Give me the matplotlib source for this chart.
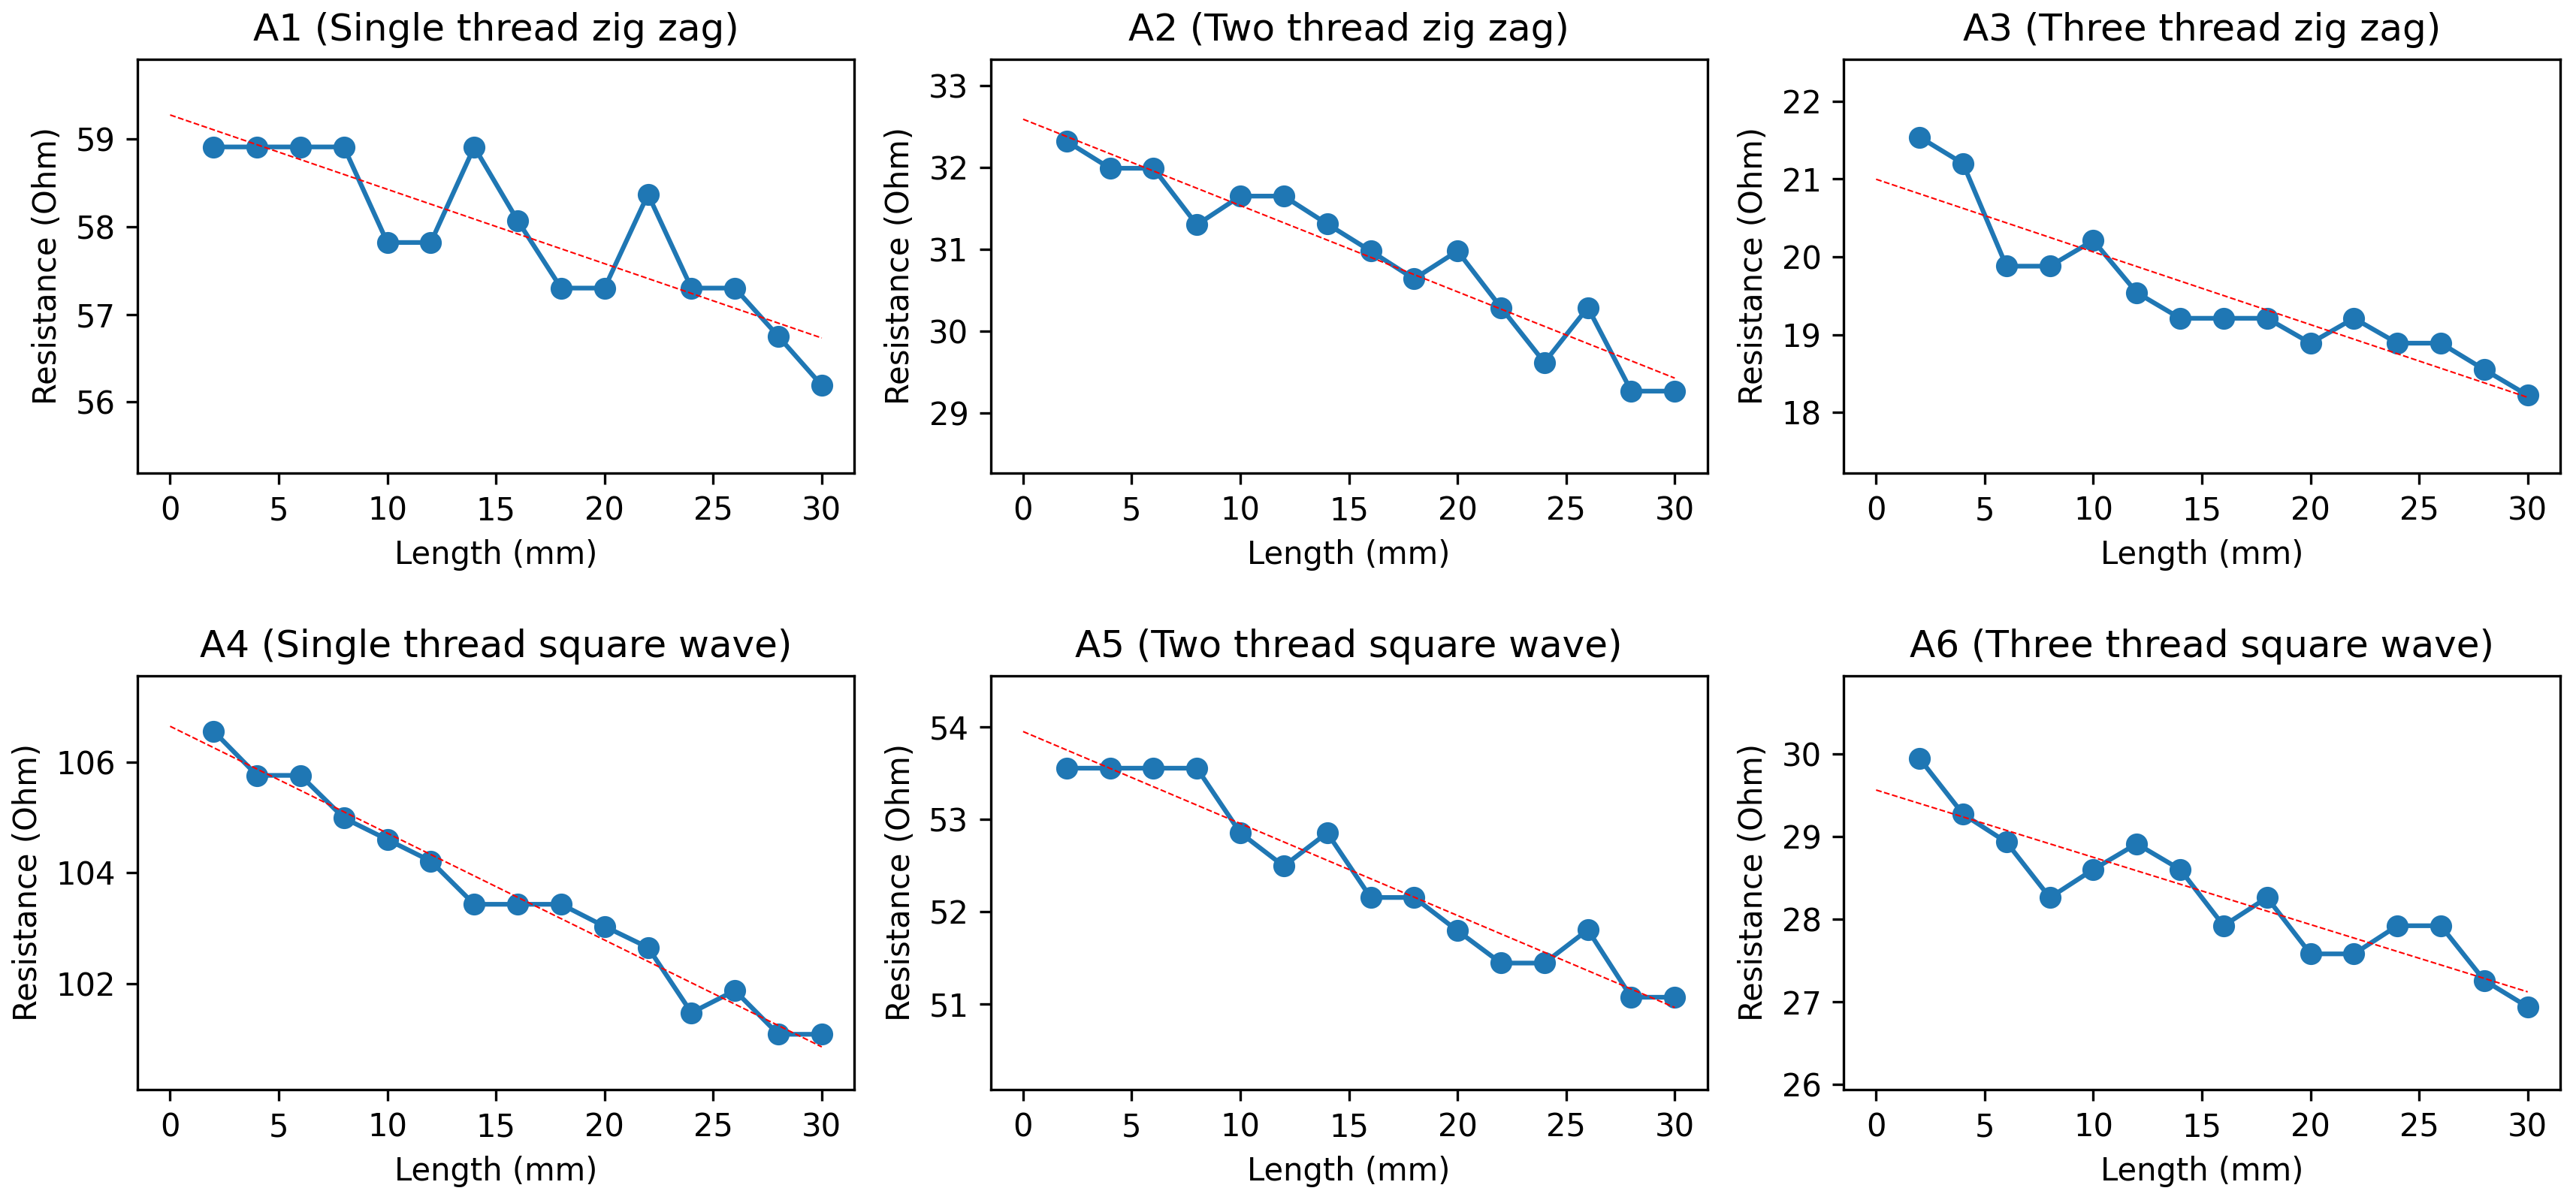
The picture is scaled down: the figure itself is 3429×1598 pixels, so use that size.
import matplotlib
matplotlib.use("Agg")
import matplotlib.pyplot as plt
import numpy as np

# lengths (mm) shared by all samples
length = [2, 4, 6, 8, 10, 12, 14, 16, 18, 20, 22, 24, 26, 28, 30]

titles = [
    "A1 (Single thread zig zag)",
    "A2 (Two thread zig zag)",
    "A3 (Three thread zig zag)",
    "A4 (Single thread square wave)",
    "A5 (Two thread square wave)",
    "A6 (Three thread square wave)",
]

# resistance readings (Ohm)
a1 = [58.91, 58.91, 58.91, 58.91, 57.82, 57.82, 58.91, 58.07,
      57.30, 57.30, 58.37, 57.30, 57.30, 56.75, 56.19]
a2 = [32.32, 31.99, 31.99, 31.30, 31.65, 31.65, 31.31, 30.98,
      30.64, 30.98, 30.29, 29.62, 30.29, 29.27, 29.27]
a3 = [21.54, 21.20, 19.88, 19.88, 20.21, 19.54, 19.21, 19.21,
      19.21, 18.89, 19.21, 18.89, 18.89, 18.55, 18.22]
a4 = [106.56, 105.76, 105.76, 104.99, 104.60, 104.21, 103.43, 103.43,
      103.43, 103.03, 102.65, 101.47, 101.87, 101.08, 101.08]
a5 = [53.55, 53.55, 53.55, 53.55, 52.85, 52.49, 52.85, 52.15,
      52.15, 51.79, 51.44, 51.44, 51.80, 51.07, 51.07]
a6 = [29.94, 29.27, 28.93, 28.26, 28.60, 28.91, 28.60, 27.92,
      28.26, 27.58, 27.58, 27.92, 27.92, 27.26, 26.94]

series = [a1, a2, a3, a4, a5, a6]


def draw_sample(ax, x, y, title):
    """One panel: measured points plus a linear fit from 0 to 30 mm."""
    x = np.array(x, dtype=float)
    y = np.array(y, dtype=float)
    ax.plot(x, y, marker="o", color="tab:blue")

    m, b = np.polyfit(x, y, 1)
    xf = np.array([0.0, 30.0])
    ax.plot(xf, m * xf + b, "r--", linewidth=0.5)

    ax.set_ylim(y.min() - 1, y.max() + 1)
    ax.set_xticks([0, 5, 10, 15, 20, 25, 30])
    ax.set_title(title)
    ax.set_xlabel("Length (mm)")
    ax.set_ylabel("Resistance (Ohm)")


fig, axes = plt.subplots(2, 3, figsize=(11.43, 5.3267), dpi=300)
for ax, y, t in zip(axes.flat, series, titles):
    draw_sample(ax, length, y, t)

fig.subplots_adjust(left=0.0534, right=0.9939, top=0.9506, bottom=0.092,
                    wspace=0.19, hspace=0.49)
fig.savefig("out.png", dpi=300)
